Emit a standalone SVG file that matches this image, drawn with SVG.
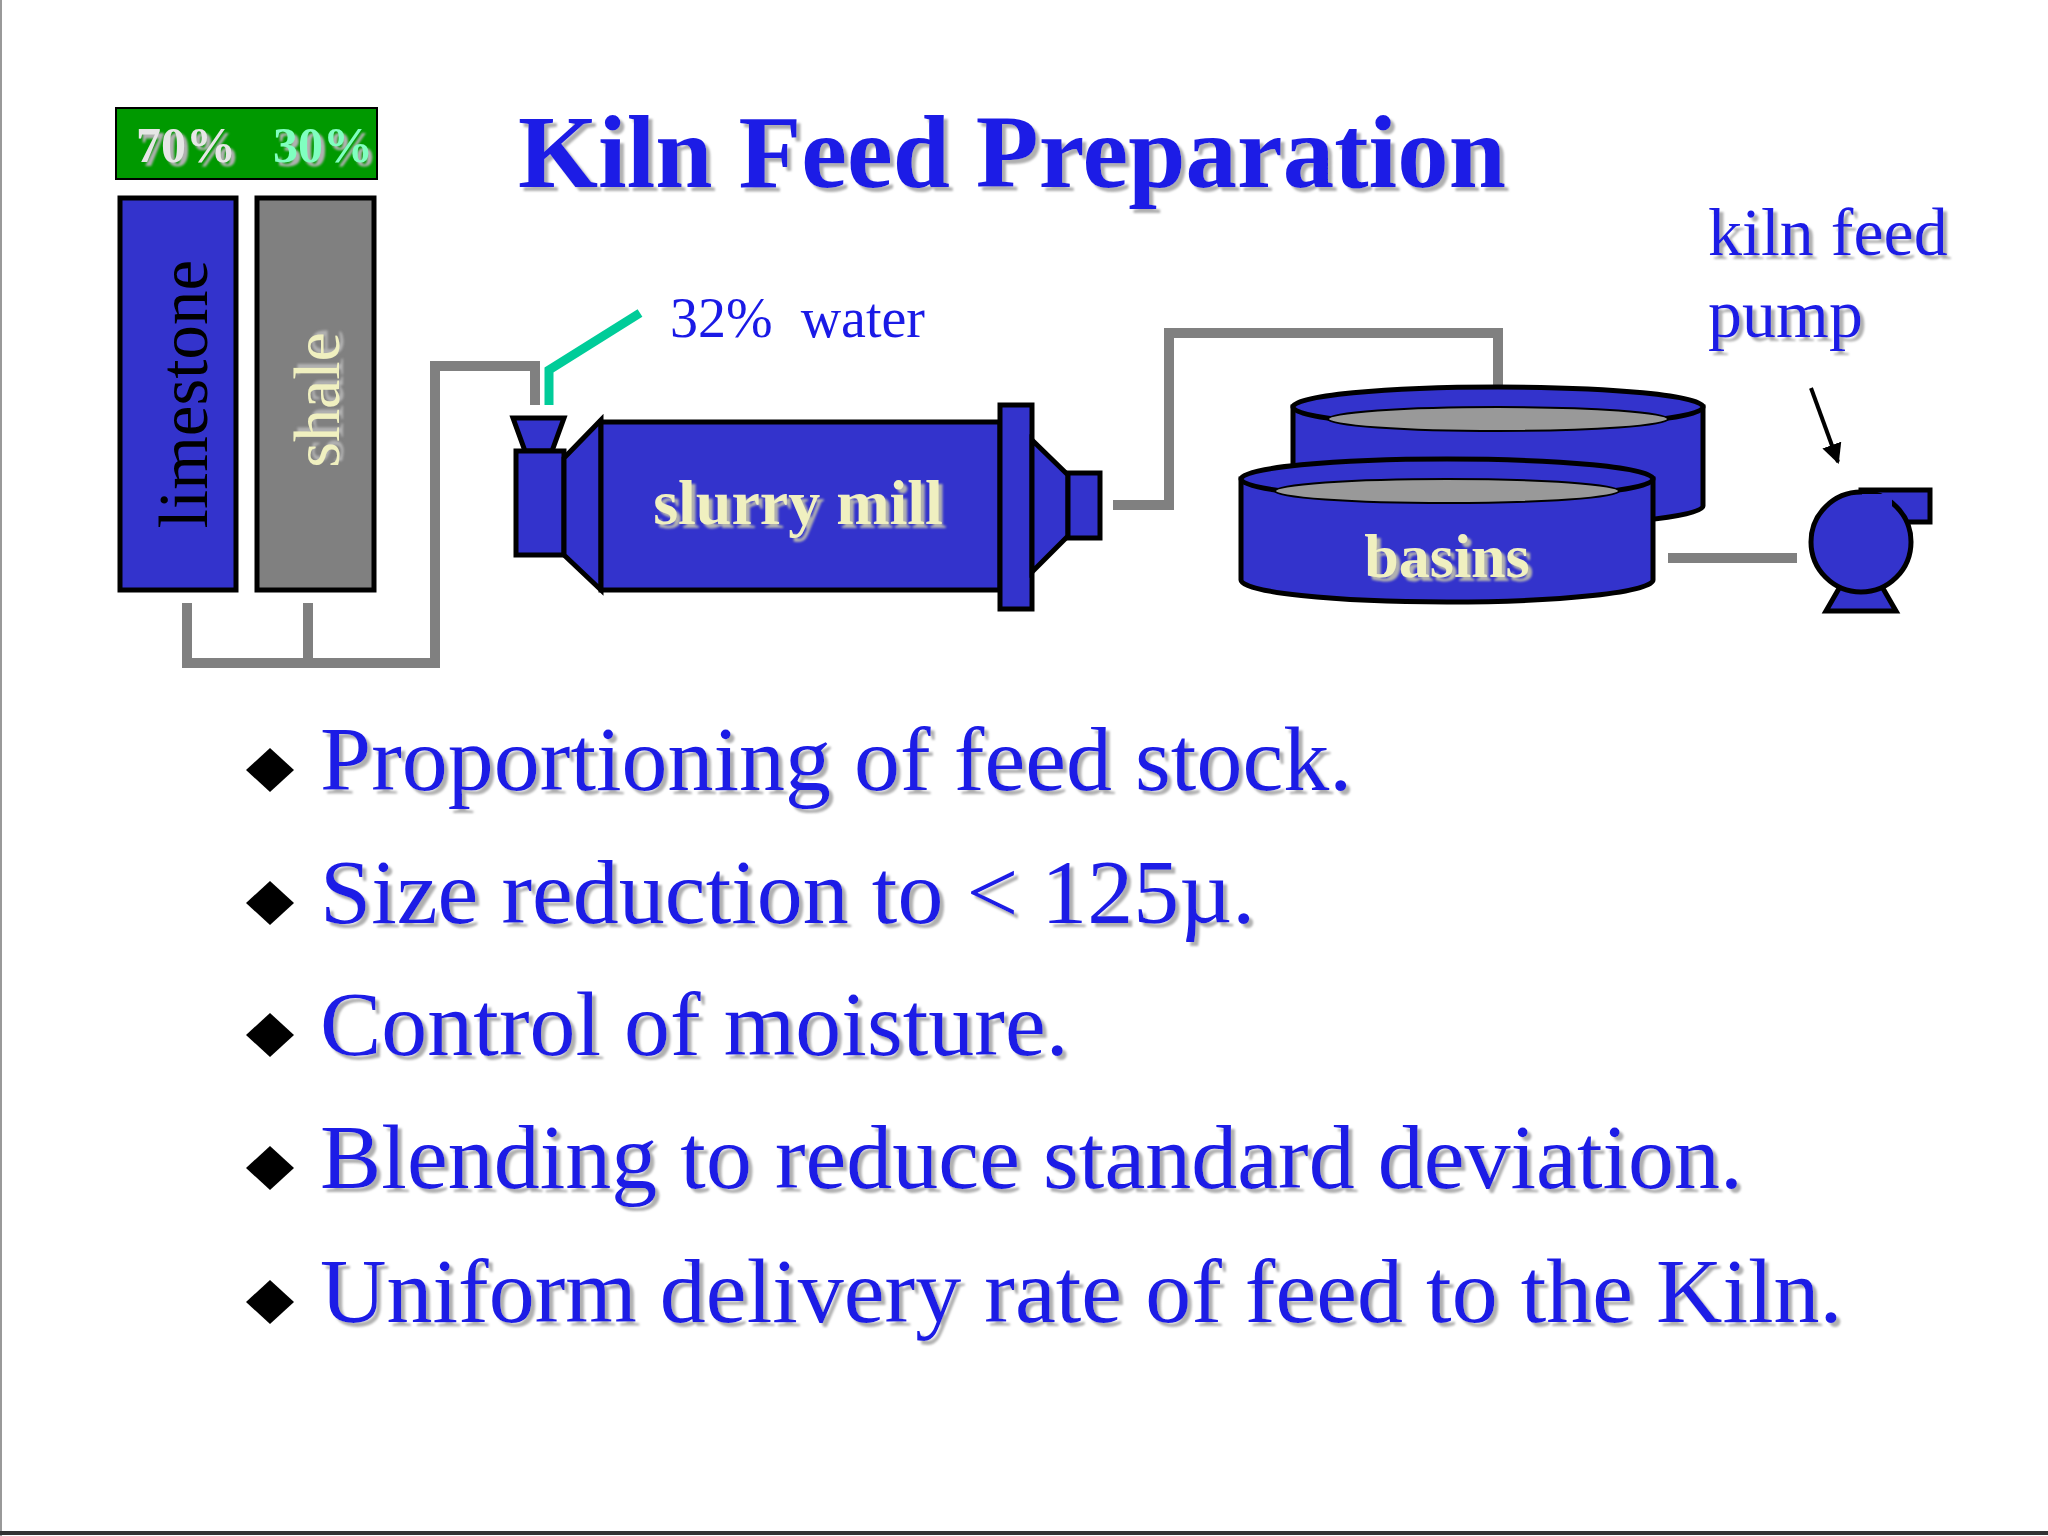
<svg xmlns="http://www.w3.org/2000/svg" width="2048" height="1536" viewBox="0 0 2048 1536">
<defs>
<style>
.t{font-family:"Liberation Serif","Times New Roman",serif}
.pipe{fill:none;stroke:#808080;stroke-width:10}
.eq{fill:#3333CC;stroke:#000;stroke-width:5}
.b{font-size:92px;fill:#1A1AE6}
</style>
<filter id="sh" x="-5%" y="-20%" width="110%" height="140%"><feDropShadow dx="4" dy="4" stdDeviation="1" flood-color="#b0b0b0"/></filter>
<marker id="ah" viewBox="0 0 10 10" refX="9" refY="5" markerWidth="5" markerHeight="5" orient="auto"><path d="M0,0L10,5L0,10z" fill="#000"/></marker>
</defs>
<rect width="2048" height="1536" fill="#fff"/>
<line x1="1" y1="0" x2="1" y2="1536" stroke="#999" stroke-width="2"/>
<line x1="0" y1="1533" x2="2048" y2="1533" stroke="#333" stroke-width="4"/>
<g id="connectors">
<polyline class="pipe" points="187,603 187,663 435,663 435,366 535,366 535,405"/>
<line class="pipe" x1="308" y1="603" x2="308" y2="663"/>
<polyline class="pipe" points="1113,505 1169,505 1169,333 1498,333 1498,390"/>
<line class="pipe" x1="1668" y1="558" x2="1797" y2="558"/>
<polyline points="549,405 549,370 640,313" fill="none" stroke="#00CC99" stroke-width="9"/>
<line x1="1811" y1="388" x2="1838" y2="462" stroke="#000" stroke-width="4" marker-end="url(#ah)"/>
</g>
<g id="ratio"><rect x="116" y="108" width="261" height="71" fill="#009900" stroke="#000" stroke-width="2"/>
<text class="t" x="136" y="162" font-size="50" font-weight="bold" fill="#E6E6E6" filter="url(#sh)">70%</text>
<text class="t" x="273" y="162" font-size="50" font-weight="bold" fill="#80FFC0" filter="url(#sh)">30%</text></g>
<g id="limestone"><rect class="eq" x="120" y="198" width="116" height="392"/>
<text class="t" transform="translate(207,394) rotate(-90)" text-anchor="middle" font-size="69" fill="#000">limestone</text></g>
<g id="shale"><rect x="257" y="198" width="117" height="392" fill="#808080" stroke="#000" stroke-width="5"/>
<text class="t" transform="translate(339,400) rotate(-90)" text-anchor="middle" font-size="66" fill="#F0F0C0" filter="url(#sh)">shale</text></g>
<text class="t" x="518" y="187" font-size="103" font-weight="bold" fill="#1A1AE6" filter="url(#sh)">Kiln Feed Preparation</text>
<text class="t" x="670" y="337" font-size="56" fill="#1A1AE6" xml:space="preserve">32%  water</text>
<g id="mill">
<polygon class="eq" points="513,418 564,418 552,451 525,451"/>
<rect class="eq" x="516" y="451" width="48" height="104"/>
<polygon class="eq" points="564,458 601,420 601,590 564,555"/>
<rect class="eq" x="601" y="422" width="399" height="168"/>
<rect class="eq" x="1000" y="405" width="32" height="204"/>
<polygon class="eq" points="1032,440 1068,475 1068,536 1032,572"/>
<rect class="eq" x="1068" y="473" width="32" height="65"/>
<text class="t" x="798" y="524" text-anchor="middle" font-size="64" font-weight="bold" fill="#F0F0C0" filter="url(#sh)">slurry mill</text>
</g>
<g id="basins">
<path class="eq" d="M1293,407 L1293,506 A205,20 0 0 0 1703,506 L1703,407 Z"/>
<ellipse class="eq" cx="1498" cy="407" rx="205" ry="20"/>
<ellipse cx="1498" cy="419" rx="170" ry="12" fill="#999" stroke="#000" stroke-width="2"/>
<path class="eq" d="M1241,479 L1241,580 A206,22 0 0 0 1653,580 L1653,479 Z"/>
<ellipse class="eq" cx="1447" cy="479" rx="206" ry="20"/>
<ellipse cx="1447" cy="491" rx="172" ry="12" fill="#999" stroke="#000" stroke-width="2"/>
<text class="t" x="1447" y="577" text-anchor="middle" font-size="62" font-weight="bold" fill="#F0F0C0" filter="url(#sh)">basins</text>
</g>
<g id="pump">
<polygon class="eq" points="1841,585 1881,585 1896,611 1826,611"/>
<rect class="eq" x="1861" y="490" width="69" height="32"/>
<circle class="eq" cx="1861" cy="542" r="50"/>
<rect x="1862" y="494" width="30" height="24" fill="#3333CC"/>
<text class="t" x="1708" y="255" font-size="68" fill="#1A1AE6" filter="url(#sh)">kiln feed</text>
<text class="t" x="1708" y="337" font-size="68" fill="#1A1AE6" filter="url(#sh)">pump</text>
</g>
<g id="bullets">
<g fill="#000"><path d="M270,748 L294,770 L270,792 L246,770Z"/><path d="M270,881 L294,903 L270,925 L246,903Z"/><path d="M270,1013 L294,1035 L270,1057 L246,1035Z"/><path d="M270,1146 L294,1168 L270,1190 L246,1168Z"/><path d="M270,1280 L294,1302 L270,1324 L246,1302Z"/></g>
<g class="t b" filter="url(#sh)">
<text x="320" y="790">Proportioning of feed stock.</text>
<text x="320" y="923">Size reduction to &lt; 125µ.</text>
<text x="320" y="1055">Control of moisture.</text>
<text x="320" y="1188">Blending to reduce standard deviation.</text>
<text x="320" y="1322">Uniform delivery rate of feed to the Kiln.</text>
</g></g>
</svg>
